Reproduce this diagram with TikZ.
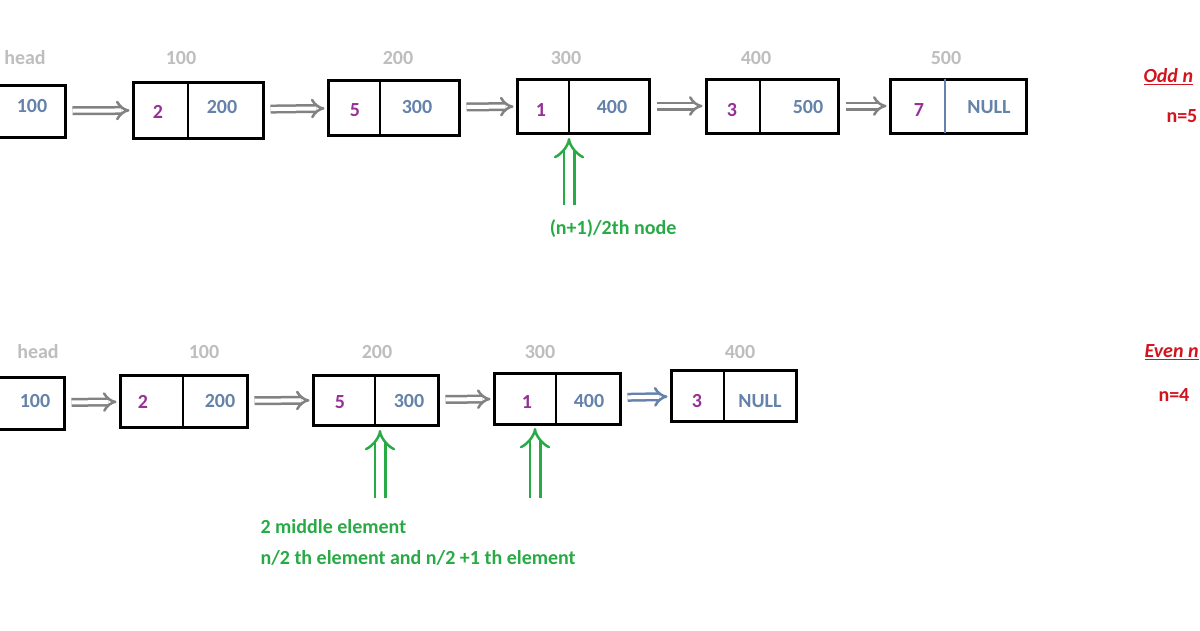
\documentclass[tikz,border=0pt]{standalone}
\usepackage{fontspec}
\setmainfont{Carlito}
\usetikzlibrary{arrows.meta}
\definecolor{lg}{RGB}{190,190,190}
\definecolor{bt}{RGB}{100,130,170}
\definecolor{pt}{RGB}{150,50,150}
\definecolor{gt}{RGB}{40,170,70}
\definecolor{rt}{RGB}{210,20,30}
\definecolor{ag}{RGB}{130,130,130}
\begin{document}
\begin{tikzpicture}[x=1pt,y=-1pt,
  box/.style={draw=black,line width=3pt,minimum height=52pt,inner sep=0pt},
  lab/.style={font=\fontsize{20}{24}\selectfont\bfseries,text=lg},
  bv/.style={font=\fontsize{20}{24}\selectfont\bfseries,text=bt},
  pv/.style={font=\fontsize{20}{24}\selectfont\bfseries,text=pt},
  gtx/.style={font=\fontsize{20}{24}\selectfont\bfseries,text=gt},
  rtx/.style={font=\fontsize{20}{24}\selectfont\bfseries,text=rt},
  harr/.style={draw=ag,double=white,line width=2.5pt,double distance=4pt,-Implies,shorten <=6pt,shorten >=2pt},
  varr/.style={draw=gt,double=white,line width=2.5pt,double distance=8pt,-Implies}]
\useasboundingbox[fill=white] (0,0) rectangle (1200,630);
% ---- top row
\node[box,minimum width=70pt] (h1) at (30,111) {};
\node[bv] (h1v) at (32,106) {100};
\node[box,minimum width=130pt,minimum height=56pt] (a1) at (198,110) {};
\draw[line width=2pt] (188,82) -- (188,138);
\node[pv] at (158,112) {2}; \node[bv] at (222,107) {200};
\node[box,minimum width=131pt,minimum height=55pt] (a2) at (393.5,107.5) {};
\draw[line width=2pt] (380,80) -- (380,135);
\node[pv] at (355,110) {5}; \node[bv] at (417,107) {300};
\node[box,minimum width=132pt,minimum height=54pt] (a3) at (583,106) {};
\draw[line width=2pt] (569,79) -- (569,133);
\node[pv] at (541,110) {1}; \node[bv] at (612,107) {400};
\node[box,minimum width=132pt,minimum height=54pt] (a4) at (772,106) {};
\draw[line width=2pt] (760,79) -- (760,133);
\node[pv] at (732,110) {3}; \node[bv] at (808,107) {500};
\node[box,minimum width=136pt,minimum height=54pt] (a5) at (958,106) {};
\draw[line width=2.5pt,bt] (945,79) -- (945,133);
\node[pv] at (919,110) {7}; \node[bv] at (989,107) {NULL};
\node[lab] at (25,58) {head}; \node[lab] at (181,58) {100};
\node[lab] at (398,58) {200}; \node[lab] at (566,58) {300};
\node[lab] at (756,58) {400}; \node[lab] at (946,58) {500};
\draw[harr] (h1) -- (a1); \draw[harr] (a1) -- (a2); \draw[harr] (a2) -- (a3);
\draw[harr] (a3) -- (a4); \draw[harr] (a4) -- (a5);
\coordinate (g1) at (569,205);
\node[gtx] (t1) at (613,229) {(n+1)/2th node};
\draw[varr] (g1) -- (569,138);
\node[rtx,anchor=west] (odd) at (1140,77) {\itshape\underline{Odd n}};
\node[rtx,anchor=west] at (1163,116) {n=5};
% ---- bottom row
\node[box,minimum width=69pt] (h2) at (29.5,403) {};
\node[bv] at (35,401) {100};
\node[box,minimum width=127pt] (b1) at (183.5,401) {};
\draw[line width=2pt] (183,375) -- (183,427);
\node[pv] at (143,402) {2}; \node[bv] at (220,401) {200};
\node[box,minimum width=125pt,minimum height=50pt] (b2) at (375.5,400) {};
\draw[line width=2pt] (375,375) -- (375,425);
\node[pv] at (340,402) {5}; \node[bv] at (409,401) {300};
\node[box,minimum width=126pt,minimum height=51pt] (b3) at (557,398.5) {};
\draw[line width=2pt] (556,373) -- (556,424);
\node[pv] at (527,402) {1}; \node[bv] at (589,401) {400};
\node[box,minimum width=125pt,minimum height=51pt] (b4) at (733.5,395.5) {};
\draw[line width=2pt] (724,370) -- (724,421);
\node[pv] at (697,401) {3}; \node[bv] at (760,401) {NULL};
\node[lab] at (38,352) {head}; \node[lab] at (204,352) {100};
\node[lab] at (377,352) {200}; \node[lab] at (540,352) {300};
\node[lab] at (740,352) {400};
\draw[harr] (h2) -- (b1); \draw[harr] (b1) -- (b2); \draw[harr] (b2) -- (b3);
\draw[harr,draw=bt] (b3) -- (b4);
\coordinate (g2) at (380,498); \coordinate (g3) at (535,498);
\draw[varr] (g2) -- (380,430);
\draw[varr] (g3) -- (535,428);
\node[gtx,anchor=west] at (257,527) {2 middle element};
\node[gtx,anchor=west] at (257,558) {n/2 th element and n/2 +1 th element};
\node[rtx,anchor=west] at (1141,352) {\itshape\underline{Even n}};
\node[rtx,anchor=west] at (1155,395) {n=4};
\end{tikzpicture}
\end{document}
